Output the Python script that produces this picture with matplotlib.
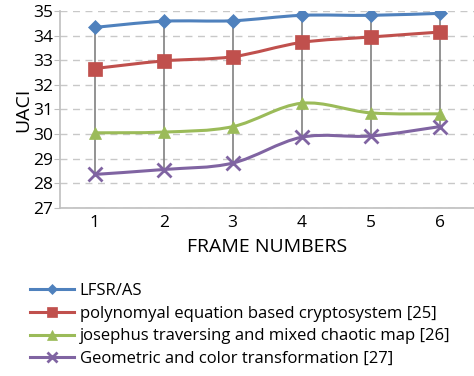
import numpy as np
import matplotlib
matplotlib.use("Agg")
from matplotlib import pyplot as plt
from matplotlib.path import Path
from matplotlib.patches import PathPatch
from matplotlib.lines import Line2D

plt.rcParams['font.family'] = ['Open Sans', 'DejaVu Sans']

# DATA
frames = [1, 2, 3, 4, 5, 6]
lfsr = [34.33, 34.58, 34.6, 34.82, 34.82, 34.9]
poly = [32.66, 32.97, 33.14, 33.72, 33.94, 34.14]
josephus = [30.05, 30.08, 30.3, 31.25, 30.86, 30.82]
geometric = [28.36, 28.56, 28.82, 29.87, 29.92, 30.3]
labels = ["LFSR/AS",
          "polynomyal equation based cryptosystem [25]",
          "josephus traversing and mixed chaotic map [26]",
          "Geometric and color transformation [27]"]
colors = ["#4F81BD", "#C0504D", "#9BBB59", "#8064A2"]
markers = ["D", "s", "^", "x"]
msizes = [7, 10, 9, 10]


def smooth_path(x, y, t=1/6):
    # cubic bezier through points, like a spreadsheet "smoothed line"
    verts = [(x[0], y[0])]
    codes = [Path.MOVETO]
    n = len(x)
    for i in range(n - 1):
        x0, y0 = (x[i - 1], y[i - 1]) if i > 0 else (x[i], y[i])
        x3, y3 = (x[i + 2], y[i + 2]) if i + 2 < n else (x[i + 1], y[i + 1])
        c1 = (x[i] + (x[i + 1] - x0) * t, y[i] + (y[i + 1] - y0) * t)
        c2 = (x[i + 1] - (x3 - x[i]) * t, y[i + 1] - (y3 - y[i]) * t)
        verts += [c1, c2, (x[i + 1], y[i + 1])]
        codes += [Path.CURVE4] * 3
    return Path(verts, codes)


fig = plt.figure(figsize=(4.74, 3.76), dpi=100)
ax = fig.add_axes([0.127, 0.447, 0.873, 0.524])

# high-low lines
for i, f in enumerate(frames):
    ax.plot([f, f], [geometric[i], lfsr[i]], color="#808080", lw=1.2, zorder=2)

series = [lfsr, poly, josephus, geometric]
for s, c, m, ms in zip(series, colors, markers, msizes):
    ax.add_patch(PathPatch(smooth_path(frames, s), facecolor="none",
                           edgecolor=c, lw=2.2, zorder=3))
    mew = 2 if m == "x" else 0.5
    ax.plot(frames, s, linestyle="none", marker=m, ms=ms, color=c,
            markeredgecolor=c, mew=mew, zorder=4)

ax.set_xlim(0.5, 6.5)
ax.set_ylim(27, 35)
ax.set_yticks(range(27, 36))
ax.set_xticks(frames)
ax.yaxis.grid(True, linestyle=(0, (5, 4)), color="#C8C8C8", lw=1)
ax.set_axisbelow(True)
for sp in ["top", "right"]:
    ax.spines[sp].set_visible(False)
ax.spines["left"].set_color("#BFBFBF")
ax.spines["bottom"].set_color("#BFBFBF")
ax.spines["left"].set_linewidth(1.2)
ax.spines["bottom"].set_linewidth(1.2)
ax.tick_params(axis="both", labelsize=12.5, length=0, pad=5)
ax.tick_params(axis="y", length=4, color="#BFBFBF", pad=1)
ax.set_ylabel("UACI", fontsize=14, labelpad=1)
ax.set_xlabel("FRAME NUMBERS", fontsize=14, labelpad=5)

handles = [Line2D([], [], color=c, marker=m, lw=2.2, ms=ms * 0.75,
                  mew=2 if m == "x" else 0.5)
           for c, m, ms in zip(colors, markers, msizes)]
fig.legend(handles, labels, loc="upper left", bbox_to_anchor=(0.05, 0.265),
           frameon=False, fontsize=12, handlelength=2.6, handletextpad=0.35,
           labelspacing=0.4, borderaxespad=0)

fig.savefig("out.png", dpi=100)
